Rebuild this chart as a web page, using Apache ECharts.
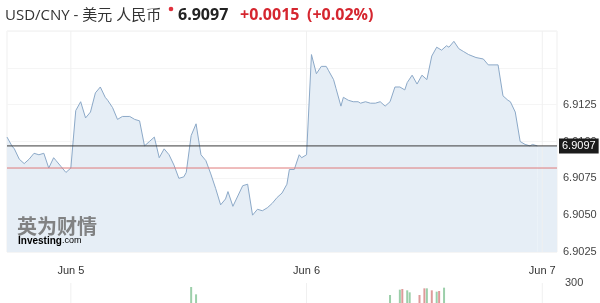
<!DOCTYPE html>
<html>
<head>
<meta charset="utf-8">
<script src="https://cdn.jsdelivr.net/npm/echarts@6/dist/echarts.min.js"></script>
<style>
html,body{margin:0;padding:0;background:#fff;}
#c{width:600px;height:303px;}
</style>
</head>
<body>
<div id="c"></div>
<script>
// ---- data ----
const pairName = 'USD/CNY - 美元 人民币';
const lastPrice = 6.9097;
const prevClose = 6.9082;
const changeText = '+0.0015';
const changePctText = '(+0.02%)';

const dateLabels = ['Jun 5', 'Jun 6', 'Jun 7'];
const dateHours = [0, 24, 48];

const priceTickLabels = ['6.9025', '6.9050', '6.9075', '6.9100', '6.9125'];
const volumeTickLabels = ['300'];

// hours relative to Jun 5 00:00
const times = [-6.5, -6, -5.75, -5.25, -4.75, -4.25, -3.75, -3.25, -2.75, -2.25, -1.75, -1.5, -1, -0.5, 0,
  0.5, 1, 1.5, 2, 2.5, 3, 3.5, 3.75, 4.25, 4.75, 5.25, 6, 6.5, 7, 7.5, 8, 8.5, 9, 9.5, 10, 10.5, 11, 11.5,
  11.75, 12.25, 12.75, 13.25, 13.75, 14.25, 14.75, 15.25, 15.75, 16, 16.5, 17, 17.5, 18, 18.5, 19, 19.5,
  20, 20.5, 21, 21.5, 22, 22.25, 22.75, 23.25, 23.5, 24, 24.5, 25, 25.5, 26, 26.25, 26.75, 27, 27.5, 27.75,
  28.25, 28.75, 29.25, 29.5, 30, 30.5, 31, 31.5, 32, 32.5, 33, 33.5, 34, 34.25, 34.75, 35.25, 35.75, 36.25,
  36.75, 37.25, 37.75, 38.25, 38.5, 39, 39.5, 40, 40.5, 41.25, 42, 42.5, 43.5, 44, 44.5, 44.75, 45.25,
  45.75, 46.25, 46.75, 47, 47.5];
const prices = [6.9103, 6.9097, 6.9095, 6.9088, 6.9085, 6.9088, 6.9092, 6.9091, 6.9092, 6.9082, 6.9089, 6.9087, 6.9083, 6.9079, 6.9082,
  6.9121, 6.9127, 6.9116, 6.9120, 6.9133, 6.9137, 6.9130, 6.9128, 6.9123, 6.9115, 6.9117, 6.9117, 6.9115, 6.9114, 6.9097, 6.9100, 6.9103, 6.9089, 6.9095, 6.9091, 6.9084, 6.9075, 6.9076,
  6.9079, 6.9104, 6.9112, 6.9091, 6.9087, 6.9078, 6.9068, 6.9057, 6.9061, 6.9066, 6.9056, 6.9063, 6.9070, 6.9071, 6.9050, 6.9054, 6.9053,
  6.9055, 6.9058, 6.9062, 6.9065, 6.9071, 6.9081, 6.9081, 6.9091, 6.9089, 6.9091, 6.9159, 6.9146, 6.9151, 6.9151, 6.9148, 6.9142, 6.9136, 6.9124, 6.9130,
  6.9128, 6.9127, 6.9127, 6.9126, 6.9127, 6.9126, 6.9126, 6.9127, 6.9124, 6.9127, 6.9137, 6.9137, 6.9135, 6.9140, 6.9145, 6.9139, 6.9145, 6.9142,
  6.9158, 6.9164, 6.9162, 6.9165, 6.9164, 6.9168, 6.9163, 6.9161, 6.9159, 6.9157, 6.9156, 6.9152, 6.9152, 6.9131, 6.9128, 6.9127, 6.9120,
  6.9100, 6.9098, 6.9097, 6.9098, 6.9097];

const volTimes = [12.25, 12.75, 32.5, 33.5, 33.75, 34.25, 34.5, 35.5, 36, 36.25, 36.75, 37.25, 37.5, 38];
const volValues = [240, 130, 120, 200, 210, 190, 160, 120, 220, 220, 190, 170, 180, 230];
const volUp = [true, true, true, true, false, true, true, false, false, true, false, true, false, true];

// ---- chart ----
const chart = echarts.init(document.getElementById('c'), null, {renderer: 'canvas'});
const font = '"Liberation Sans", Arial, sans-serif';
const titleFont = '"Open Sans", "Noto Sans CJK SC", sans-serif';

const xMin = -6.5, xMax = 49.5;
const yMin = 6.9025, yMax = 6.9175;
const lastT = times[times.length - 1];

function hLine(value, color, z, endLabel) {
  return {
    type: 'line', xAxisIndex: 0, yAxisIndex: 0, z: z,
    data: [[xMin, value], [xMax, value]],
    showSymbol: false, symbol: 'none', silent: true,
    lineStyle: {color: color, width: 1},
    endLabel: endLabel || {show: false}
  };
}
function vLine(x, xi) {
  return {
    type: 'line', xAxisIndex: xi, yAxisIndex: xi, z: 1,
    data: xi === 0 ? [[x, yMin], [x, yMax]] : [[x, 0], [x, 300]],
    showSymbol: false, symbol: 'none', silent: true,
    lineStyle: {color: '#f0f0f0', width: 1}
  };
}

const option = {
  animation: false,
  backgroundColor: '#fff',
  grid: [
    {left: 7, right: 43, top: 31, height: 221, show: true, borderColor: '#efefef', borderWidth: 1, backgroundColor: 'transparent'},
    {left: 7, right: 43, top: 283, height: 30}
  ],
  xAxis: [
    {
      type: 'value', gridIndex: 0, min: xMin, max: xMax,
      axisLine: {show: false}, axisTick: {show: false},
      splitLine: {show: false},
      axisLabel: {
        show: true, margin: 13, color: '#333', fontSize: 11, fontFamily: font,
        customValues: dateHours,
        formatter: v => { const i = dateHours.indexOf(v); return i >= 0 ? dateLabels[i] : ''; }
      }
    },
    {
      type: 'value', gridIndex: 1, min: xMin, max: xMax,
      axisLine: {show: false}, axisTick: {show: false}, axisLabel: {show: false},
      splitLine: {show: false}
    }
  ],
  yAxis: [
    {
      type: 'value', gridIndex: 0, position: 'right', min: yMin, max: yMax, interval: 0.0025,
      axisLine: {show: false}, axisTick: {show: false},
      splitLine: {show: true, lineStyle: {color: '#f5f5f5', width: 1}},
      axisLabel: {
        margin: 6, color: '#444', fontSize: 11, fontFamily: font,
        formatter: v => { const s = v.toFixed(4); return priceTickLabels.indexOf(s) >= 0 ? s : ''; }
      }
    },
    {
      type: 'value', gridIndex: 1, position: 'right', min: 0, max: 300, interval: 300,
      axisLine: {show: false}, axisTick: {show: false}, splitLine: {show: false},
      axisLabel: {
        margin: 8, color: '#444', fontSize: 11, fontFamily: font,
        formatter: v => { const s = String(v); return volumeTickLabels.indexOf(s) >= 0 ? s : ''; }
      }
    }
  ],
  series: [
    vLine(dateHours[0], 0), vLine(dateHours[1], 0), vLine(dateHours[2], 0),
    vLine(dateHours[0], 1), vLine(dateHours[1], 1), vLine(dateHours[2], 1),
    {
      type: 'line', xAxisIndex: 0, yAxisIndex: 0,
      data: times.map((t, i) => [t, prices[i]]),
      showSymbol: false, symbol: 'none',
      lineStyle: {color: '#8ca9c8', width: 1},
      areaStyle: {color: '#e6eef6', opacity: 1, origin: 'start'},
      markArea: {
        silent: true,
        itemStyle: {color: '#e6eef6'},
        data: [[{xAxis: lastT, yAxis: yMin}, {xAxis: xMax, yAxis: lastPrice}]]
      },
      z: 2
    },
    {
      type: 'bar', xAxisIndex: 1, yAxisIndex: 1,
      data: volTimes.map((t, i) => ({
        value: [t, volValues[i]],
        itemStyle: {color: volUp[i] ? '#9ccfaa' : '#de9a9a'}
      })),
      barWidth: 2
    },
    hLine(prevClose, '#e07b7b', 5),
    hLine(lastPrice, '#3c3c3c', 6, {
      show: true, distance: 2,
      formatter: () => lastPrice.toFixed(4),
      backgroundColor: '#1b1b1b', color: '#fff', fontSize: 11, fontFamily: font,
      padding: [2, 3, 2, 3]
    })
  ],
  graphic: [
    {type: 'text', left: 5, top: 8, style: {text: pairName, font: '15px ' + titleFont, fill: '#333'}},
    {type: 'circle', shape: {cx: 171, cy: 9, r: 2.3}, style: {fill: '#e0313d'}},
    {type: 'text', left: 178, top: 7, style: {text: lastPrice.toFixed(4), font: 'bold 16px ' + titleFont, fill: '#222'}},
    {type: 'text', left: 240, top: 7, style: {text: changeText, font: 'bold 16px ' + titleFont, fill: '#d5262f'}},
    {type: 'text', left: 307, top: 7, style: {text: changePctText, font: 'bold 16px ' + titleFont, fill: '#d5262f'}},
    {type: 'text', left: 17, top: 216, z: 10, style: {text: '英为财情', font: 'bold 20px "Noto Sans CJK SC", sans-serif', fill: 'rgba(110,110,110,0.85)'}},
    {type: 'text', left: 18, top: 236, z: 10, style: {
      text: '{a|Investing}{b|.com}',
      rich: {
        a: {fontWeight: 'bold', fontSize: 10, fontFamily: font, color: 'rgba(120,120,120,0.9)'},
        b: {fontSize: 9, color: 'rgba(170,170,170,0.9)', fontFamily: font}
      }
    }}
  ]
};
chart.setOption(option);
</script>
</body>
</html>
